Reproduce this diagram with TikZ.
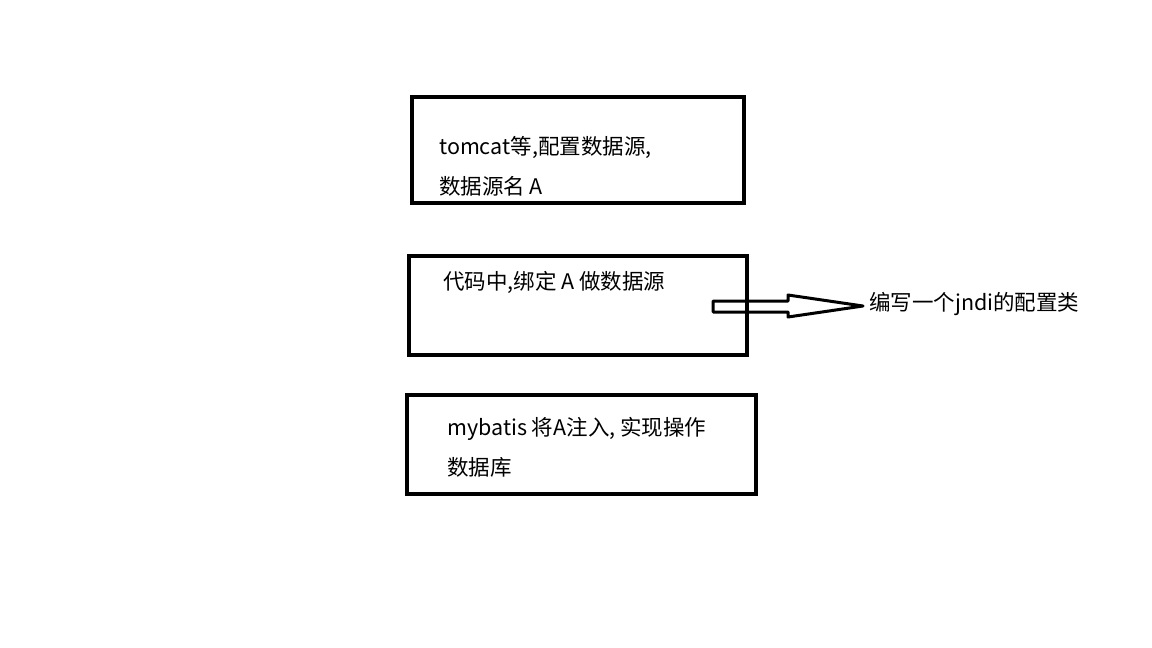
\documentclass[tikz,border=0pt]{standalone}
\usepackage{fontspec}
\setmainfont{Noto Sans CJK SC}
\begin{document}
\begin{tikzpicture}[x=1pt,y=-1pt,
  bx/.style={draw,line width=3.5pt},
  lb/.style={anchor=north west,inner sep=0pt,font=\fontsize{21.5}{40}\selectfont,align=left}]
\useasboundingbox (0,0) rectangle (1152,648);
\draw[bx] (412,97) rectangle (744,203);
\draw[bx] (409,256) rectangle (747,355);
\draw[bx] (407,395) rectangle (756,494);
\node[lb] (t1) at (439,136) {tomcat等,配置数据源,\\数据源名 A};
\node[lb] (t2) at (443,271) {代码中,绑定 A 做数据源};
\node[lb] (t3) at (447,417) {mybatis 将A注入, 实现操作\\数据库};
\node[lb,anchor=west] (t4) at (869,304) {编写一个jndi的配置类};
\draw[line width=3pt,line join=round] (713,301) -- (788,301) -- (788,295) -- (863,306) -- (788,317) -- (788,312) -- (713,312) -- cycle;
\end{tikzpicture}
\end{document}
